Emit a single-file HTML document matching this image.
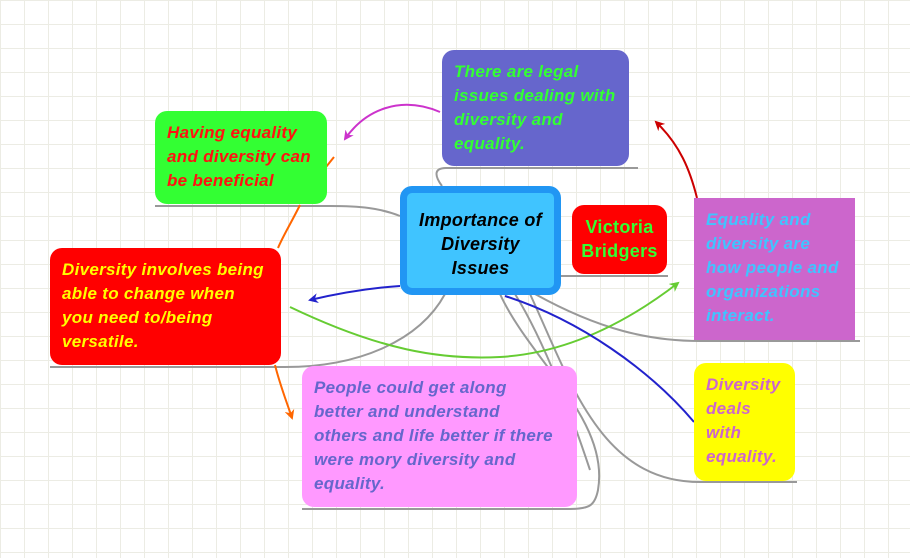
<!DOCTYPE html>
<html><head><style>
body{margin:0;width:910px;height:558px;overflow:hidden;background:#fff;
background-image:linear-gradient(#ecece4 1px,transparent 1px),linear-gradient(90deg,#ecece4 1px,transparent 1px);background-size:24px 24px;background-position:0 0;font-family:"Liberation Sans",sans-serif;position:relative}
.b{position:absolute;border-radius:12px;box-sizing:border-box;font-weight:bold;font-style:italic;font-size:17px;line-height:24px;white-space:nowrap;letter-spacing:0.3px}
svg{position:absolute;left:0;top:0}
</style></head><body>
<svg width="910" height="558">
<defs>
<marker id="a" markerWidth="10" markerHeight="10" refX="8" refY="5" orient="auto" markerUnits="userSpaceOnUse"><path d="M0,0 L10,5 L0,10 L3,5Z" fill="context-stroke"/></marker>
</defs>
<g fill="none" stroke="#999" stroke-width="2">
<path d="M400,216 C380,208 360,206 330,206 L155,206"/>
<path d="M442,186 C436,178 432,168 446,168 L638,168"/>
<path d="M555,276 C560,276 565,276 575,276 L668,276"/>
<path d="M535,294 C600,330 650,341 700,341 L860,341"/>
<path d="M445,294 C420,340 360,367 285,367 L50,367"/>
<path d="M500,294 C530,360 610,420 598,490 C595,505 590,509 570,509 L302,509"/>
<path d="M515,294 C550,350 580,440 590,470"/>
<path d="M530,294 C570,380 600,482 700,482 L797,482"/>
</g>
<g fill="none" stroke-width="2">
<path d="M440,112 C400,95 365,110 345,139" stroke="#cc33cc" marker-end="url(#a)"/>
<path d="M697,198 C690,170 680,145 656,122" stroke="#cc0000" marker-end="url(#a)"/>
<path d="M300,205 C290,225 283,236 278,248" stroke="#ff6600"/>
<path d="M334,157 L326,167" stroke="#ff6600"/>
<path d="M275,365 C280,385 286,400 292,418" stroke="#ff6600" marker-end="url(#a)"/>
<path d="M400,286 C370,288 340,293 310,300" stroke="#2222cc" marker-end="url(#a)"/>
<path d="M290,307 C380,350 440,360 500,357 C570,353 630,320 678,283" stroke="#66cc33" marker-end="url(#a)"/>
<path d="M505,296 C580,320 650,370 694,422" stroke="#2222cc"/>
</g>
</svg>
<div class="b" style="left:155px;top:111px;width:172px;height:93px;background:#33ff33;color:#ff1111;padding:10px 12px">Having equality<br>and diversity can<br>be beneficial</div>
<div class="b" style="left:442px;top:50px;width:187px;height:116px;background:#6666cc;color:#33ff33;padding:10px 12px">There are legal<br>issues dealing with<br>diversity and<br>equality.</div>
<div class="b" style="left:400px;top:186px;width:161px;height:109px;background:#40c4ff;border:7px solid #2196f3;color:#000;text-align:center;padding:15px 0 0;font-size:18px">Importance of<br>Diversity<br>Issues</div>
<div class="b" style="left:572px;top:205px;width:95px;height:69px;background:#ff0000;color:#33ff33;font-style:normal;font-size:18px;text-align:center;padding:10px 0 0">Victoria<br>Bridgers</div>
<div class="b" style="left:694px;top:198px;width:161px;height:142px;background:#cc66cc;color:#40c4ff;border-radius:0;padding:10px 12px">Equality and<br>diversity are<br>how people and<br>organizations<br>interact.</div>
<div class="b" style="left:50px;top:248px;width:231px;height:117px;background:#ff0000;color:#ffff00;padding:10px 12px">Diversity involves being<br>able to change when<br>you need to/being<br>versatile.</div>
<div class="b" style="left:302px;top:366px;width:275px;height:141px;background:#ff99ff;color:#6666cc;padding:10px 12px">People could get along<br>better and understand<br>others and life better if there<br>were mory diversity and<br>equality.</div>
<div class="b" style="left:694px;top:363px;width:101px;height:118px;background:#ffff00;color:#cc66cc;padding:10px 12px">Diversity<br>deals<br>with<br>equality.</div>
</body></html>
